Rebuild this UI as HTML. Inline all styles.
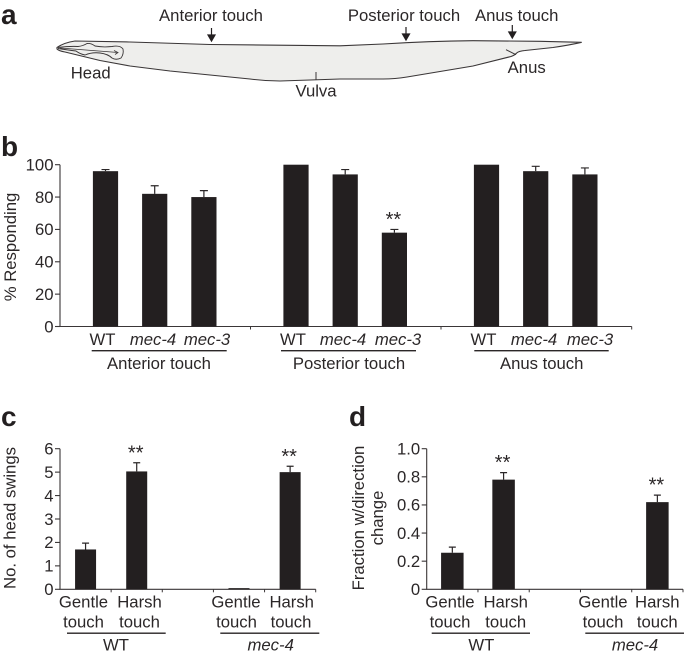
<!DOCTYPE html>
<html lang="en">
<head>
<meta charset="utf-8">
<title>Touch response figure</title>
<style>
html,body{margin:0;padding:0;background:#fff;}
body{width:685px;height:656px;overflow:hidden;}
svg{display:block;filter:blur(0.3px);}
text{font-family:"Liberation Sans",Arial,sans-serif;font-size:16.7px;fill:#2b2728;}
.letter{font-size:28px;font-weight:bold;fill:#231f20;}
.it{font-style:italic;}
.m{text-anchor:middle;}
</style>
</head>
<body>
<svg id="figure" xmlns="http://www.w3.org/2000/svg" width="685" height="656" viewBox="0 0 685 656">
  <rect x="0" y="0" width="685" height="656" fill="#fff"/>

  <g>
    <text class="letter" x="1" y="24">a</text>
    <path fill="#eeeeec" stroke="#3a3637" stroke-width="1.1" d="M57,47.5 C62,44 68,42 75,41 L130,42 L210,44.5 L340,45.8 L383,44 Q430,41 473,40.7 L540,41.3 L581.7,42.3 Q570,45 553,47.5 L525,50.5 Q519,51 516.7,53 Q515,55 511,56.5 L473,66 L407,77 Q395,79 383,79 L340,79 L280,81 Q265,81 250,79 L170,71 L130,66 L100,60.5 L65,52 Q59,51 57,49 Z"/>
    <path fill="none" stroke="#3a3637" stroke-width="0.9" d="M58,47.5 Q70,46 78,46.5 Q83,46 87,43.5 Q91,43 95,46 Q103,47.5 112,46.5 Q120,45 123,49 Q124,54 121,58 Q116,60.5 112,58 Q108,54 100,53 Q92,52 85,55 Q80,54 76,51 Q68,50 58,48.5"/>
    <path fill="none" stroke="#3a3637" stroke-width="0.8" d="M60,48 Q85,50 118,52.5 M114,50.5 L118,52.5 L115,54.5"/>
    <path fill="none" stroke="#3a3637" stroke-width="1" d="M316,72 L316,80"/>
    <path fill="none" stroke="#3a3637" stroke-width="1" d="M506,49.7 L516,54.7"/>
    <text class="m" x="211" y="21">Anterior touch</text>
    <text class="m" x="404" y="21">Posterior touch</text>
    <text class="m" x="516.7" y="21">Anus touch</text>
    <text class="m" x="90.7" y="78.7">Head</text>
    <text class="m" x="316" y="96.7">Vulva</text>
    <text class="m" x="526.7" y="73">Anus</text>
    <path fill="#231f20" stroke="#231f20" stroke-width="1.2" d="M211.5,28 L211.5,35 M208,35 L215,35 L211.5,41 Z"/>
    <path fill="#231f20" stroke="#231f20" stroke-width="1.2" d="M406,27 L406,34 M402.5,34 L409.5,34 L406,40 Z"/>
    <path fill="#231f20" stroke="#231f20" stroke-width="1.2" d="M512.3,25 L512.3,32 M508.8,32 L515.8,32 L512.3,38 Z"/>
  </g>

  <g id="panel-b">
    <text class="letter" x="1" y="156">b</text>
    <text class="m" transform="translate(16 247) rotate(-90)">% Responding</text>
    <text class="m" x="102.5" y="345">WT</text>
    <text class="m it" x="153" y="345">mec-4</text>
    <text class="m it" x="207" y="345">mec-3</text>
    <text class="m" x="293" y="345">WT</text>
    <text class="m it" x="343" y="345">mec-4</text>
    <text class="m it" x="398" y="345">mec-3</text>
    <text class="m" x="483.5" y="345">WT</text>
    <text class="m it" x="534" y="345">mec-4</text>
    <text class="m it" x="590" y="345">mec-3</text>
    <rect x="91.7" y="350" width="135" height="1.4" fill="#2b2728"/>
    <rect x="281" y="350" width="135" height="1.4" fill="#2b2728"/>
    <rect x="474.3" y="350" width="134.4" height="1.4" fill="#2b2728"/>
    <text class="m" x="159" y="369">Anterior touch</text>
    <text class="m" x="349" y="369">Posterior touch</text>
    <text class="m" x="541.7" y="369">Anus touch</text>
  </g>

  <g id="panel-c">
    <text class="letter" x="1" y="426">c</text>
    <text class="m" transform="translate(15.5 518) rotate(-90)">No. of head swings</text>
    <text class="m" x="83.5" y="607.3">Gentle</text>
    <text class="m" x="83.5" y="627.7">touch</text>
    <text class="m" x="139.5" y="607.3">Harsh</text>
    <text class="m" x="139.5" y="627.7">touch</text>
    <text class="m" x="236" y="607.3">Gentle</text>
    <text class="m" x="236.5" y="627.7">touch</text>
    <text class="m" x="291.7" y="607.3">Harsh</text>
    <text class="m" x="291" y="627.7">touch</text>
    <rect x="67" y="632.5" width="98.7" height="1.4" fill="#2b2728"/>
    <rect x="220.3" y="632.5" width="99" height="1.4" fill="#2b2728"/>
    <text class="m" x="116" y="650.7">WT</text>
    <text class="m it" x="270.7" y="650.7">mec-4</text>
  </g>

  <g id="panel-d">
    <text class="letter" x="349" y="426">d</text>
    <text class="m" transform="translate(364 518) rotate(-90)">Fraction w/direction</text>
    <text class="m" transform="translate(383 518) rotate(-90)">change</text>
    <text class="m" x="450" y="607.3">Gentle</text>
    <text class="m" x="450" y="627.7">touch</text>
    <text class="m" x="505.7" y="607.3">Harsh</text>
    <text class="m" x="505.7" y="627.7">touch</text>
    <text class="m" x="603" y="607.3">Gentle</text>
    <text class="m" x="603" y="627.7">touch</text>
    <text class="m" x="657.3" y="607.3">Harsh</text>
    <text class="m" x="657.3" y="627.7">touch</text>
    <rect x="431.7" y="632.5" width="98.3" height="1.4" fill="#2b2728"/>
    <rect x="585.3" y="632.5" width="98.7" height="1.4" fill="#2b2728"/>
    <text class="m" x="481.3" y="650.7">WT</text>
    <text class="m it" x="635" y="650.7">mec-4</text>
  </g>
</svg>
<script>
// Panel b data
const bCategories = ["WT anterior","mec-4 anterior","mec-3 anterior","WT posterior","mec-4 posterior","mec-3 posterior","WT anus","mec-4 anus","mec-3 anus"];
const bValues = [96,82,80,100,94,58,100,96,94];
const bErrors = [1,5,4,0,3,2,0,3,4];
const bStars = [false,false,false,false,false,true,false,false,false];
const bTicks = [0,20,40,60,80,100];

// Panel c data
const cCategories = ["Gentle WT","Harsh WT","","Gentle mec-4","Harsh mec-4"];
const cValues = [1.7,5.03,null,0.05,5.0];
const cErrors = [0.27,0.37,null,0,0.25];
const cStars = [false,true,false,false,true];
const cTicks = [0,1,2,3,4,5,6];

// Panel d data
const dCategories = ["Gentle WT","Harsh WT","","Gentle mec-4","Harsh mec-4"];
const dValues = [0.26,0.78,null,0,0.62];
const dErrors = [0.04,0.05,null,0,0.05];
const dStars = [false,true,false,false,true];
const dTicks = [0,0.2,0.4,0.6,0.8,1.0];
const dTickLabels = ["0","0.2","0.4","0.6","0.8","1.0"];

const SVGNS = "http://www.w3.org/2000/svg";
function mk(parent, tag, attrs) {
  const el = document.createElementNS(SVGNS, tag);
  for (const k in attrs) el.setAttribute(k, attrs[k]);
  parent.appendChild(el);
  return el;
}

function drawAxes(g, o) {
  const axis = mk(g, "path", {d:"M"+o.x0+","+o.yTop+" L"+o.x0+","+o.y0+" L"+o.x1+","+o.y0, fill:"none", stroke:"#3a3637", "stroke-width":1.1});
  
  
  o.ticks.forEach(function (t, i) {
    const y = o.y(t);
    const tick = mk(g, "line", {x1:o.x0-5, x2:o.x0, y1:y, y2:y, stroke:"#3a3637", "stroke-width":1.1});
    
    
    const label = mk(g, "text", {x:o.x0-6.5, y:y+5.8, "text-anchor":"end"});
    label.textContent = o.labels ? o.labels[i] : String(t);
    
    
  });
  o.xTicks.forEach(function (x) {
    const tick = mk(g, "line", {x1:x, x2:x, y1:o.y0, y2:o.y0+3, stroke:"#3a3637", "stroke-width":1});
    
    
  });
}

function drawBars(g, o, values, errors, stars, xOf) {
  values.forEach(function (v, i) {
    if (v === null) return;
    const cx = xOf(i);
    const top = o.y(v);
    const errTop = o.y(v + errors[i]);
    if (errors[i] > 0) {
      const err = mk(g, "path", {d:"M"+cx+","+top+" L"+cx+","+errTop+" M"+(cx-o.cap)+","+errTop+" L"+(cx+o.cap)+","+errTop, fill:"none", stroke:"#2b2728", "stroke-width":1.2});
      
      
    }
    const bar = mk(g, "rect", {x:cx-o.w/2, y:top, width:o.w, height:Math.max(o.y0-top,0), fill:"#231f20"});
    
    
    if (stars[i]) {
      const star = mk(g, "text", {x:cx-1, y:errTop-3.5, "text-anchor":"middle", style:"font-size:20px"});
      star.textContent = "**";
      
      
    }
  });
}

// Panel b
(function () {
  const g = document.getElementById("panel-b");
  const y0 = 326.5, yMax = 164.7, maxV = 100;
  const y = function (v) { return y0 - (v / maxV) * (y0 - yMax); };
  const groupW = 190.5, x0 = 60;
  const o = {x0:x0, x1:631.7, y0:y0, yTop:yMax, y:y, ticks:bTicks, xTicks:[x0+groupW, x0+2*groupW, 631.7], w:25.2, cap:4};
  drawAxes(g, o);
  const xOf = function (i) {
    const group = Math.floor(i / 3);
    return x0 + group * groupW + 45.5 + (i % 3) * 49.2;
  };
  drawBars(g, o, bValues, bErrors, bStars, xOf);
})();

// Panels c and d
function smallPanel(id, x0, x1, maxV, ticks, labels, values, errors, stars, w) {
  const g = document.getElementById(id);
  const y0 = 589.3, yMax = 448.7;
  const y = function (v) { return y0 - (v / maxV) * (y0 - yMax); };
  const step = (x1 - x0) / values.length;
  const xTicks = values.map(function (_, i) { return x0 + (i + 1) * step; });
  const o = {x0:x0, x1:x1, y0:y0, yTop:yMax, y:y, ticks:ticks, labels:labels, xTicks:xTicks, w:w, cap:3.5};
  drawAxes(g, o);
  const xOf = function (i) { return x0 + (i + 0.5) * step; };
  drawBars(g, o, values, errors, stars, xOf);
}
smallPanel("panel-c", 60, 315.7, 6, cTicks, null, cValues, cErrors, cStars, 21);
smallPanel("panel-d", 426.7, 683, 1, dTicks, dTickLabels, dValues, dErrors, dStars, 22.5);
</script>
</body>
</html>
